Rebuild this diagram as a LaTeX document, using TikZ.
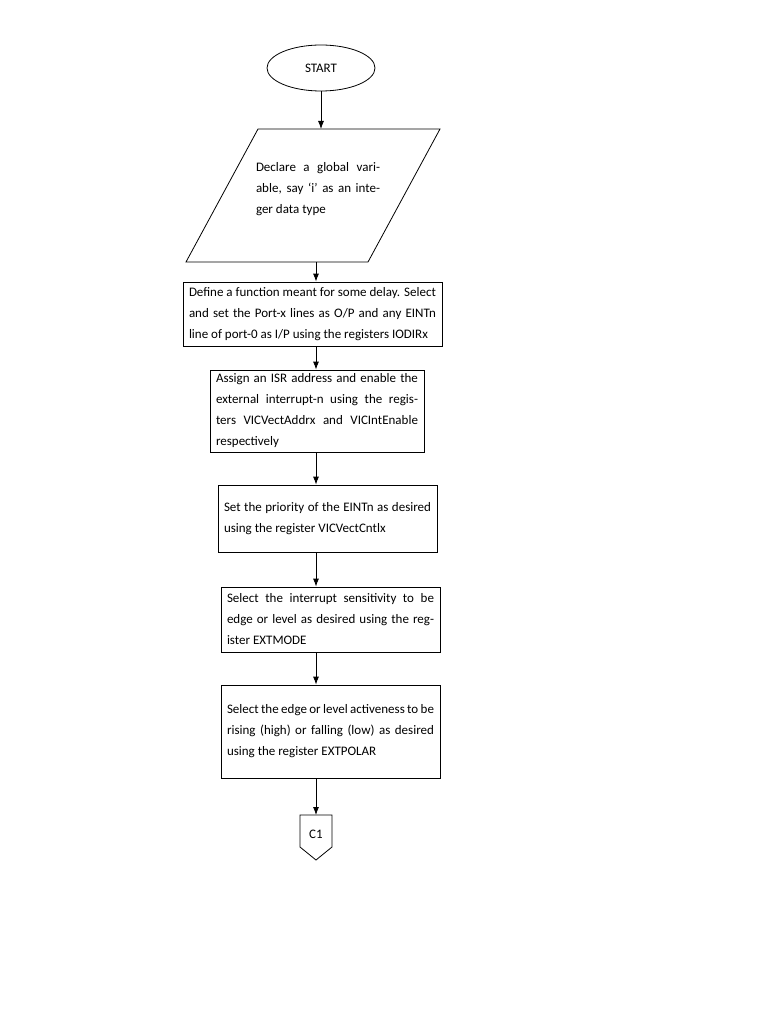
\documentclass[tikz,border=0pt]{standalone}
\usepackage{fontspec}
\setmainfont{Carlito}
\usetikzlibrary{arrows.meta,shapes.geometric}
\begin{document}
\begin{tikzpicture}[x=1pt,y=1pt,
  every node/.style={font=\fontsize{13}{21}\selectfont},
  proc/.style={draw,thick,rectangle,align=justify,inner xsep=6pt,inner ysep=3pt},
  arr/.style={thick,-{Latex[length=8pt,width=6pt]}}]
\useasboundingbox (0,0) rectangle (768,-1024);
\node[draw,thick,ellipse,minimum width=108,minimum height=46] (start) at (321,-68) {START};
\coordinate (p1) at (258,-129); \coordinate (p2) at (440,-129);
\coordinate (p3) at (368,-262); \coordinate (p4) at (186,-262);
\draw[thick] (p1) -- (p2) -- (p3) -- (p4) -- cycle;
\node[text width=124,align=justify] (decl) at (318,-189) {Declare a global variable, say `i' as an integer data type};
\coordinate (pt) at (321,-129); \coordinate (pb) at (316,-262);
\node[proc,text width=247,minimum height=64] (b1) at (312.5,-314) {Define a function meant for some delay. Select and set the Port-x lines as O/P and any EINTn line of port-0 as I/P using the registers IODIRx};
\node[proc,text width=202,minimum height=82] (b2) at (317,-411) {Assign an ISR address and enable the external interrupt-n using the registers VICVectAddrx and VICIntEnable respectively};
\node[proc,text width=207,minimum height=67] (b3) at (327.5,-518.5) {Set the priority of the EINTn as desired using the register VICVectCntlx};
\node[proc,text width=207,minimum height=65] (b4) at (330.5,-619.5) {Select the interrupt sensitivity to be edge or level as desired using the register EXTMODE};
\node[proc,text width=207,minimum height=93] (b5) at (330.5,-731.5) {Select the edge or level activeness to be rising (high) or falling (low) as desired using the register EXTPOLAR};
\coordinate (c1t) at (316,-815);
\draw[thick] (300,-815) -- (332,-815) -- (332,-847) -- (316,-860) -- (300,-847) -- cycle;
\node (c1) at (316,-834) {C1};
\draw[arr] (start) -- (pt);
\draw[arr] (pb) -- (b1.north -| pb);
\draw[arr] (b1.south -| pb) -- (b2.north -| pb);
\draw[arr] (b2.south -| pb) -- (b3.north -| pb);
\draw[arr] (b3.south -| pb) -- (b4.north -| pb);
\draw[arr] (b4.south -| pb) -- (b5.north -| pb);
\draw[arr] (b5.south -| pb) -- (c1t);
\end{tikzpicture}
\end{document}
